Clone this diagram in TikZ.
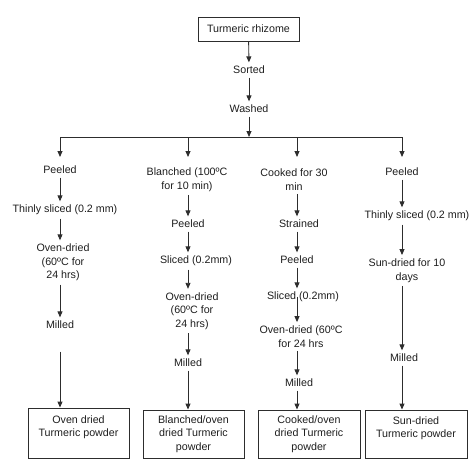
\documentclass[tikz,border=0pt]{standalone}
\usepackage{fontspec}
\setmainfont{Liberation Sans}
\usetikzlibrary{arrows.meta, positioning, calc}
\definecolor{linecolor}{RGB}{45, 45, 45}
\definecolor{textcolor}{RGB}{30, 30, 30}

\begin{document}
\begin{tikzpicture}[
        x=1pt, y=-1pt,
        stage/.style={align=center, font=\fontsize{10.7}{13.5}\selectfont, text=textcolor, inner sep=3.5pt},
        product/.style={rectangle, draw=linecolor, line width=0.9pt, align=center, font=\fontsize{10.7}{13.5}\selectfont, text=textcolor, minimum width=101pt, minimum height=48pt, inner sep=2pt},
        link/.style={line width=0.9pt, linecolor},
        arrow/.style={link, -{Triangle[length=6pt, width=5pt]}}
    ]
        \useasboundingbox (0,0) rectangle (474,474);

        % Common steps
        \node (rhizome) [product, minimum height=24pt] at (248.5,29) {Turmeric rhizome};
        \node (sorted) [stage] at (249,70) {Sorted};
        \node (washed) [stage] at (249,109) {Washed};
        \coordinate (split) at (249,137);
        \coordinate (branch) at (249,157);

        \draw [arrow] (rhizome) -- (sorted);
        \draw [arrow] (sorted) -- (washed);
        \draw [arrow] (washed) -- (split);

        % Columns
        \coordinate (colA) at (60,0);
        \coordinate (colB) at (188,0);
        \coordinate (colC) at (297,0);
        \coordinate (colD) at (402,0);

        \draw [link] (split -| colA) -- (split -| colD);
        \draw [arrow] (split -| colA) -- (branch -| colA);
        \draw [arrow] (split -| colB) -- (branch -| colB);
        \draw [arrow] (split -| colC) -- (branch -| colC);
        \draw [arrow] (split -| colD) -- (branch -| colD);

        % Oven dried branch
        \node (peeledA) [stage] at (60,170) {Peeled};
        \node (slicedA) [stage] at (65,210) {Thinly sliced (0.2 mm)};
        \node (ovenA) [stage] at (63,262.5) {Oven-dried\\(60ºC for\\24 hrs)};
        \node (milledA) [stage] at (60,325) {Milled};
        \node (powderA) [product, minimum height=50pt] at (78.5,433) {Oven dried\\Turmeric powder\\\mbox{}};

        \draw [arrow] (peeledA.south -| colA) -- (slicedA.north -| colA);
        \draw [arrow] (slicedA.south -| colA) -- (ovenA.north -| colA);
        \draw [arrow] (ovenA.south -| colA) -- (milledA.north -| colA);
        \draw [arrow, shorten <=19pt] (milledA.south -| colA) -- (powderA.north -| colA);

        % Blanched branch
        \node (blanched) [stage] at (187,179.5) {Blanched (100ºC\\for 10 min)};
        \node (peeledB) [stage] at (188,224) {Peeled};
        \node (slicedB) [stage] at (196,261) {Sliced (0.2mm)};
        \node (ovenB) [stage] at (192,311) {Oven-dried\\(60ºC for\\24 hrs)};
        \node (milledB) [stage] at (188,363) {Milled};
        \node (powderB) [product] at (193.5,434) {Blanched/oven\\dried Turmeric\\powder};

        \draw [arrow] (blanched.south -| colB) -- (peeledB.north -| colB);
        \draw [arrow] (peeledB.south -| colB) -- (slicedB.north -| colB);
        \draw [arrow] (slicedB.south -| colB) -- (ovenB.north -| colB);
        \draw [arrow] (ovenB.south -| colB) -- (milledB.north -| colB);
        \draw [arrow] (milledB.south -| colB) -- (powderB.north -| colB);

        % Cooked branch
        \node (cooked) [stage] at (294,179.5) {Cooked for 30\\min};
        \node (strained) [stage] at (299,224) {Strained};
        \node (peeledC) [stage] at (297,260) {Peeled};
        \node (slicedC) [stage] at (303,297) {Sliced (0.2mm)};
        \node (ovenC) [stage] at (301,336.5) {Oven-dried (60ºC\\for 24 hrs};
        \node (milledC) [stage] at (299,383) {Milled};
        \node (powderC) [product, minimum width=102pt] at (309,434) {Cooked/oven\\dried Turmeric\\powder};

        \draw [arrow] (cooked.south -| colC) -- (strained.north -| colC);
        \draw [arrow] (strained.south -| colC) -- (peeledC.north -| colC);
        \draw [arrow] (peeledC.south -| colC) -- (slicedC.north -| colC);
        \draw [arrow, shorten <=-9pt] (slicedC.south -| colC) -- (ovenC.north -| colC);
        \draw [arrow] (ovenC.south -| colC) -- (milledC.north -| colC);
        \draw [arrow] (milledC.south -| colC) -- (powderC.north -| colC);

        % Sun dried branch
        \node (peeledD) [stage] at (402,172) {Peeled};
        \node (slicedD) [stage] at (417,216) {Thinly sliced (0.2 mm)};
        \node (sundried) [stage] at (407,270.5) {Sun-dried for 10\\days};
        \node (milledD) [stage] at (404,358) {Milled};
        \node (powderD) [product, minimum width=102pt] at (416,434) {Sun-dried\\Turmeric powder\\\mbox{}};

        \draw [arrow] (peeledD.south -| colD) -- (slicedD.north -| colD);
        \draw [arrow] (slicedD.south -| colD) -- (sundried.north -| colD);
        \draw [arrow] (sundried.south -| colD) -- (milledD.north -| colD);
        \draw [arrow] (milledD.south -| colD) -- (powderD.north -| colD);
    \end{tikzpicture}
\end{document}
